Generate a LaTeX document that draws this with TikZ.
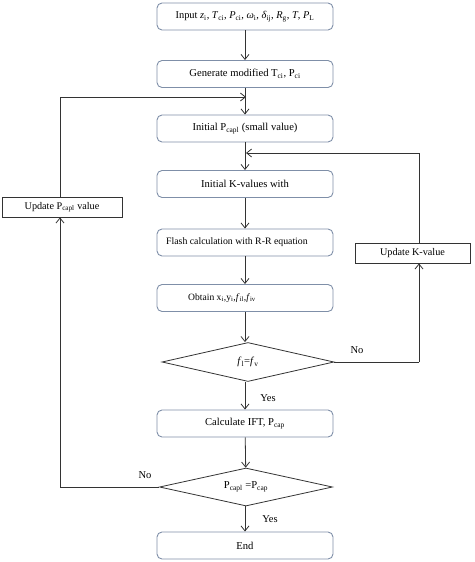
\documentclass[tikz,border=0pt]{standalone}
\usepackage{fontspec}
\setmainfont{Liberation Serif}
\usetikzlibrary{shapes.geometric,arrows.meta}
\definecolor{boxc}{HTML}{7F8FA8}
\definecolor{linec}{HTML}{333333}
\begin{document}
\begin{tikzpicture}[x=1pt,y=-1pt,
  proc/.style={draw=boxc, rounded corners=5pt, line width=0.9pt, minimum width=176pt, minimum height=27pt, inner sep=0pt, font=\fontsize{10.6}{12}\selectfont},
  upd/.style={draw=linec, line width=0.8pt, minimum height=20pt, inner sep=0pt, font=\fontsize{10.2}{12}\selectfont},
  dec/.style={diamond, draw=linec, line width=0.8pt, inner sep=0pt, aspect=4.4, font=\fontsize{10.6}{12}\selectfont},
  conn/.style={draw=linec, line width=0.8pt},
  arr/.style={conn, -{Straight Barb[length=5pt,width=8pt]}},
  lab/.style={font=\fontsize{10.5}{12}\selectfont}
]
\useasboundingbox (0,0) rectangle (474,562);
\node[proc, font=\fontsize{10.4}{12}\selectfont] (input) at (245,16.5) {Input \textit{z}\textsubscript{i}, \textit{T}\textsubscript{ci}, \textit{P}\textsubscript{ci}, \textit{ω}\textsubscript{i}, \textit{δ}\textsubscript{ij}, \textit{R}\textsubscript{g}, \textit{T}, \textit{P}\textsubscript{L}};
\node[proc] (gen) at (245,74) {Generate modified T\textsubscript{ci}, P\textsubscript{ci}};
\node[proc] (initp) at (245,128.5) {Initial P\textsubscript{capl} (small value)};
\node[proc] (initk) at (245,184) {Initial K-values with};
\node[proc] (flash) at (245,242.5) {};
\node[anchor=west, inner sep=0pt, font=\fontsize{9.8}{12}\selectfont] (flasht) at (166,242.5) {Flash calculation with R-R equation};
\node[proc] (obtain) at (245,298) {};
\node[anchor=west, inner sep=0pt, font=\fontsize{9.6}{11}\selectfont] (obtaint) at (188,298) {Obtain x\textsubscript{i},y\textsubscript{i},\textit{f}\textsubscript{il},\textit{f}\textsubscript{iv}};
\node[dec, minimum width=172pt, minimum height=39pt] (d1) at (248,362) {\textit{f}\textsubscript{l}=\textit{f}\textsubscript{v}};
\node[proc] (calc) at (245,423.5) {Calculate IFT, P\textsubscript{cap}};
\node[dec, minimum width=173pt, minimum height=38pt] (d2) at (246,487) {P\textsubscript{capl} =P\textsubscript{cap}};
\node[proc] (end) at (245,545.5) {End};
\node[upd, minimum width=120pt] (updp) at (62,207) {Update P\textsubscript{capl} value};
\node[upd, minimum width=115pt] (updk) at (412.5,253) {Update K-value};

\coordinate (j1) at (246,97);
\coordinate (j2) at (246,153);
\coordinate (l1) at (60,487);
\coordinate (l2) at (60,97);
\coordinate (r1) at (419,362);
\coordinate (r2) at (419,153);

\draw[arr] (input) -- (gen);
\draw[arr] (gen) -- (initp);
\draw[arr] (initp) -- (initk);
\draw[arr] (initk) -- (flash);
\draw[arr] (flash) -- (obtain);
\draw[arr] (obtain.south) -- (obtain.south |- d1.north);
\draw[arr] (d1.south -| calc.north) -- (calc.north);
\draw[arr] (calc) -- (d2);
\draw[arr] (d2.south -| end.north) -- (end.north);

\draw[conn] (d2.west) -- (l1);
\draw[arr] (l1) -- (l1 |- updp.south);
\draw[conn] (l2 |- updp.north) -- (l2);
\draw[arr] (l2) -- (j1);

\draw[conn] (d1.east) -- (r1);
\draw[arr] (r1) -- (r1 |- updk.south);
\draw[conn] (r2 |- updk.north) -- (r2);
\draw[arr] (r2) -- (j2);

\node[lab] (no1) at (357,350) {No};
\node[lab] (yes1) at (268,398) {Yes};
\node[lab] (no2) at (145,475) {No};
\node[lab] (yes2) at (270,519) {Yes};
\end{tikzpicture}
\end{document}
